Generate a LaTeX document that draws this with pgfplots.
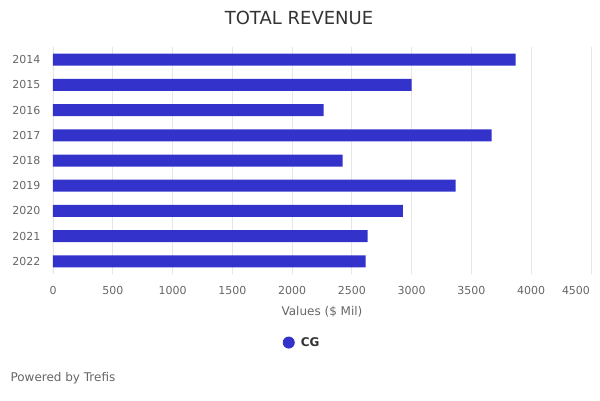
\documentclass[border=0pt]{standalone}
\usepackage{fontspec}
\setmainfont{DejaVu Sans}
\usepackage{pgfplots}
\pgfplotsset{compat=1.18}
\definecolor{barc}{HTML}{3333CC}
\definecolor{gridc}{HTML}{E6E6E6}
\definecolor{axc}{HTML}{CCD6EB}
\definecolor{tickc}{HTML}{666666}
\definecolor{titc}{HTML}{333333}
\begin{document}
\begin{tikzpicture}[x=1pt,y=1pt]
\useasboundingbox (0,0) rectangle (600,400);
\node[font=\fontsize{18}{21}\selectfont, text=titc] at (299,382) {TOTAL REVENUE};
\node[font=\fontsize{12}{14}\selectfont, text=tickc, anchor=west] at (7,22) {Powered by Trefis};
\begin{axis}[
  at={(53pt,126pt)}, anchor=south west,
  scale only axis, width=538pt, height=227pt,
  xbar, bar width=12pt,
  xmin=0, xmax=4500,
  ymin=-0.5, ymax=8.5, y dir=reverse,
  ytick={0,1,2,3,4,5,6,7,8},
  yticklabels={2014,2015,2016,2017,2018,2019,2020,2021,2022},
  xtick={0,500,1000,1500,2000,2500,3000,3500,4000},
  extra x ticks={4500},
  extra x tick style={xticklabel style={xshift=-15pt}},
  /pgf/number format/assume math mode=true,
  /pgf/number format/1000 sep={},
  xmajorgrids, grid style={gridc, line width=0.8pt},
  major tick length=0pt,
  axis line style={draw=none},
  tick label style={font=\fontsize{11}{13}\selectfont, text=tickc},
  yticklabel style={xshift=-9pt},
  xticklabel style={yshift=-9pt},
  xlabel={Values (\$ Mil)},
  xlabel style={font=\fontsize{12}{14}\selectfont, text=tickc, yshift=-5pt},
  legend style={at={(0.463,-0.302)}, anchor=center, draw=none, fill=none,
    font=\fontsize{12}{14}\bfseries\selectfont, text=titc},
  legend image code/.code={\fill[barc] (0pt,0pt) circle (6pt); \path (10pt,0pt);},
]
\addplot[fill=barc, draw=none] coordinates {
 (3870,0) (2999,1) (2263,2) (3668,3) (2423,4) (3367,5) (2926,6) (2631,7) (2615,8)};
\addlegendentry{CG}
\draw[axc, line width=1pt] (axis cs:0,-0.5) -- (axis cs:0,8.5);
\end{axis}
\end{tikzpicture}
\end{document}
